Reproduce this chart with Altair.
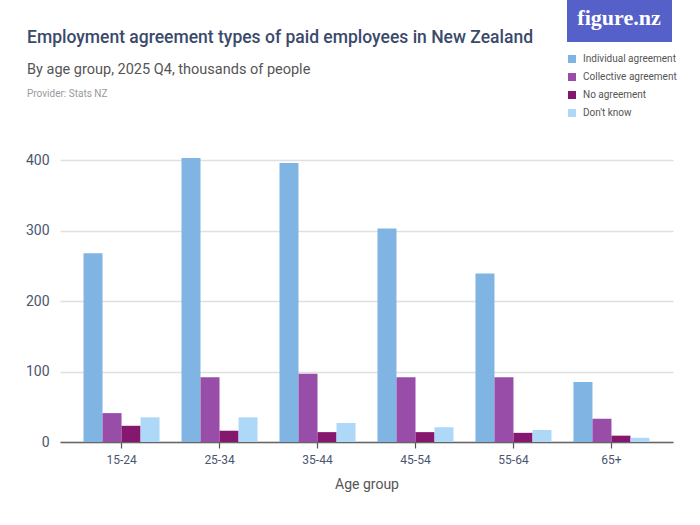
import altair as alt
import pandas as pd

# Paid employees by employment agreement type and age group, 2025 Q4 (thousands)
age_groups = ["15-24", "25-34", "35-44", "45-54", "55-64", "65+"]
agreement_types = ["Individual agreement", "Collective agreement", "No agreement", "Don't know"]
individual = [268, 403, 396, 303, 239, 85]
collective = [41, 92, 97, 92, 92, 33]
no_agreement = [23, 16, 14, 14, 13, 9]
dont_know = [35, 35, 27, 21, 17, 6]
series_colors = ["#80B5E3", "#984EA8", "#86176E", "#AED8F8"]
y_ticks = [0, 100, 200, 300, 400]

title_text = ["Employment agreement types of paid employees in New Zealand"]
subtitle_text = ["By age group, 2025 Q4, thousands of people"]
provider_text = ["Provider: Stats NZ"]
logo_text = ["figure.nz"]

FONT = "Roboto, sans-serif"
INK = "#3B4A6B"
GREY = "#555555"

rows = []
for series, name in zip([individual, collective, no_agreement, dont_know], agreement_types):
    for age, v in zip(age_groups, series):
        rows.append({"age": age, "type": name, "value": v})
df = pd.DataFrame(rows)

W, H = 613, 303
PAD_L, PAD_T = 60, 139

bars = alt.Chart(df).mark_bar().encode(
    x=alt.X(
        "age:N",
        sort=age_groups,
        scale=alt.Scale(paddingInner=0.224, paddingOuter=0.24),
        axis=alt.Axis(
            title="Age group",
            labelAngle=0,
            labelFont=FONT,
            labelFontSize=12,
            labelColor="#4A5570",
            labelPadding=6,
            tickColor="#555555",
            tickSize=6,
            tickWidth=1.2,
            domainColor="#666666",
            domainWidth=1.5,
            titleFont=FONT,
            titleFontSize=14,
            titleFontWeight="normal",
            titleColor=GREY,
            titlePadding=12,
        ),
    ),
    xOffset=alt.XOffset("type:N", sort=agreement_types,
                        scale=alt.Scale(paddingInner=0, paddingOuter=0)),
    y=alt.Y(
        "value:Q",
        scale=alt.Scale(domain=[0, 430], nice=False),
        axis=alt.Axis(
            title=None,
            values=y_ticks,
            domain=False,
            ticks=False,
            grid=True,
            gridColor="#E0E0E0",
            gridWidth=1.5,
            labelFont=FONT,
            labelFontSize=14,
            labelColor="#4A5570",
            labelPadding=11,
        ),
    ),
    color=alt.Color(
        "type:N",
        sort=agreement_types,
        scale=alt.Scale(domain=agreement_types, range=series_colors),
        legend=alt.Legend(
            title=None,
            orient="none",
            legendX=507,
            legendY=-85,
            padding=0,
            symbolType="square",
            symbolSize=64,
            symbolStrokeWidth=0,
            labelFont=FONT,
            labelFontSize=10,
            labelColor=GREY,
            labelOffset=6,
            rowPadding=8,
        ),
    ),
)


def text_layer(values, x, y, size, color, weight="normal", font=FONT, align="left"):
    return alt.Chart(pd.DataFrame({"t": values})).mark_text(
        align=align, baseline="alphabetic", font=font, fontSize=size,
        fontWeight=weight, color=color,
    ).encode(x=alt.value(x), y=alt.value(y), text="t:N")


title = text_layer(title_text, -33, -96, 17.5, INK, weight=500)
subtitle = text_layer(subtitle_text, -33, -65, 14.5, GREY)
provider = text_layer(provider_text, -33, -42, 10, "#9A9A9A")

logo_box = alt.Chart(pd.DataFrame({"t": logo_text})).mark_rect(color="#5560C8").encode(
    x=alt.value(507), x2=alt.value(612), y=alt.value(-139), y2=alt.value(-97)
)
logo = text_layer(logo_text, 559, -114, 22, "white", weight="bold",
                  font="'Liberation Serif', 'DejaVu Serif', serif", align="center")

chart = alt.layer(bars, title, subtitle, provider, logo_box, logo).properties(
    width=W,
    height=H,
    autosize=alt.AutoSizeParams(type="none"),
    padding={"left": PAD_L, "top": PAD_T, "right": 700 - PAD_L - W, "bottom": 525 - PAD_T - H},
    background="white",
).configure_view(stroke=None)

chart.save("out.html", embed_options={"renderer": "svg", "actions": False})
